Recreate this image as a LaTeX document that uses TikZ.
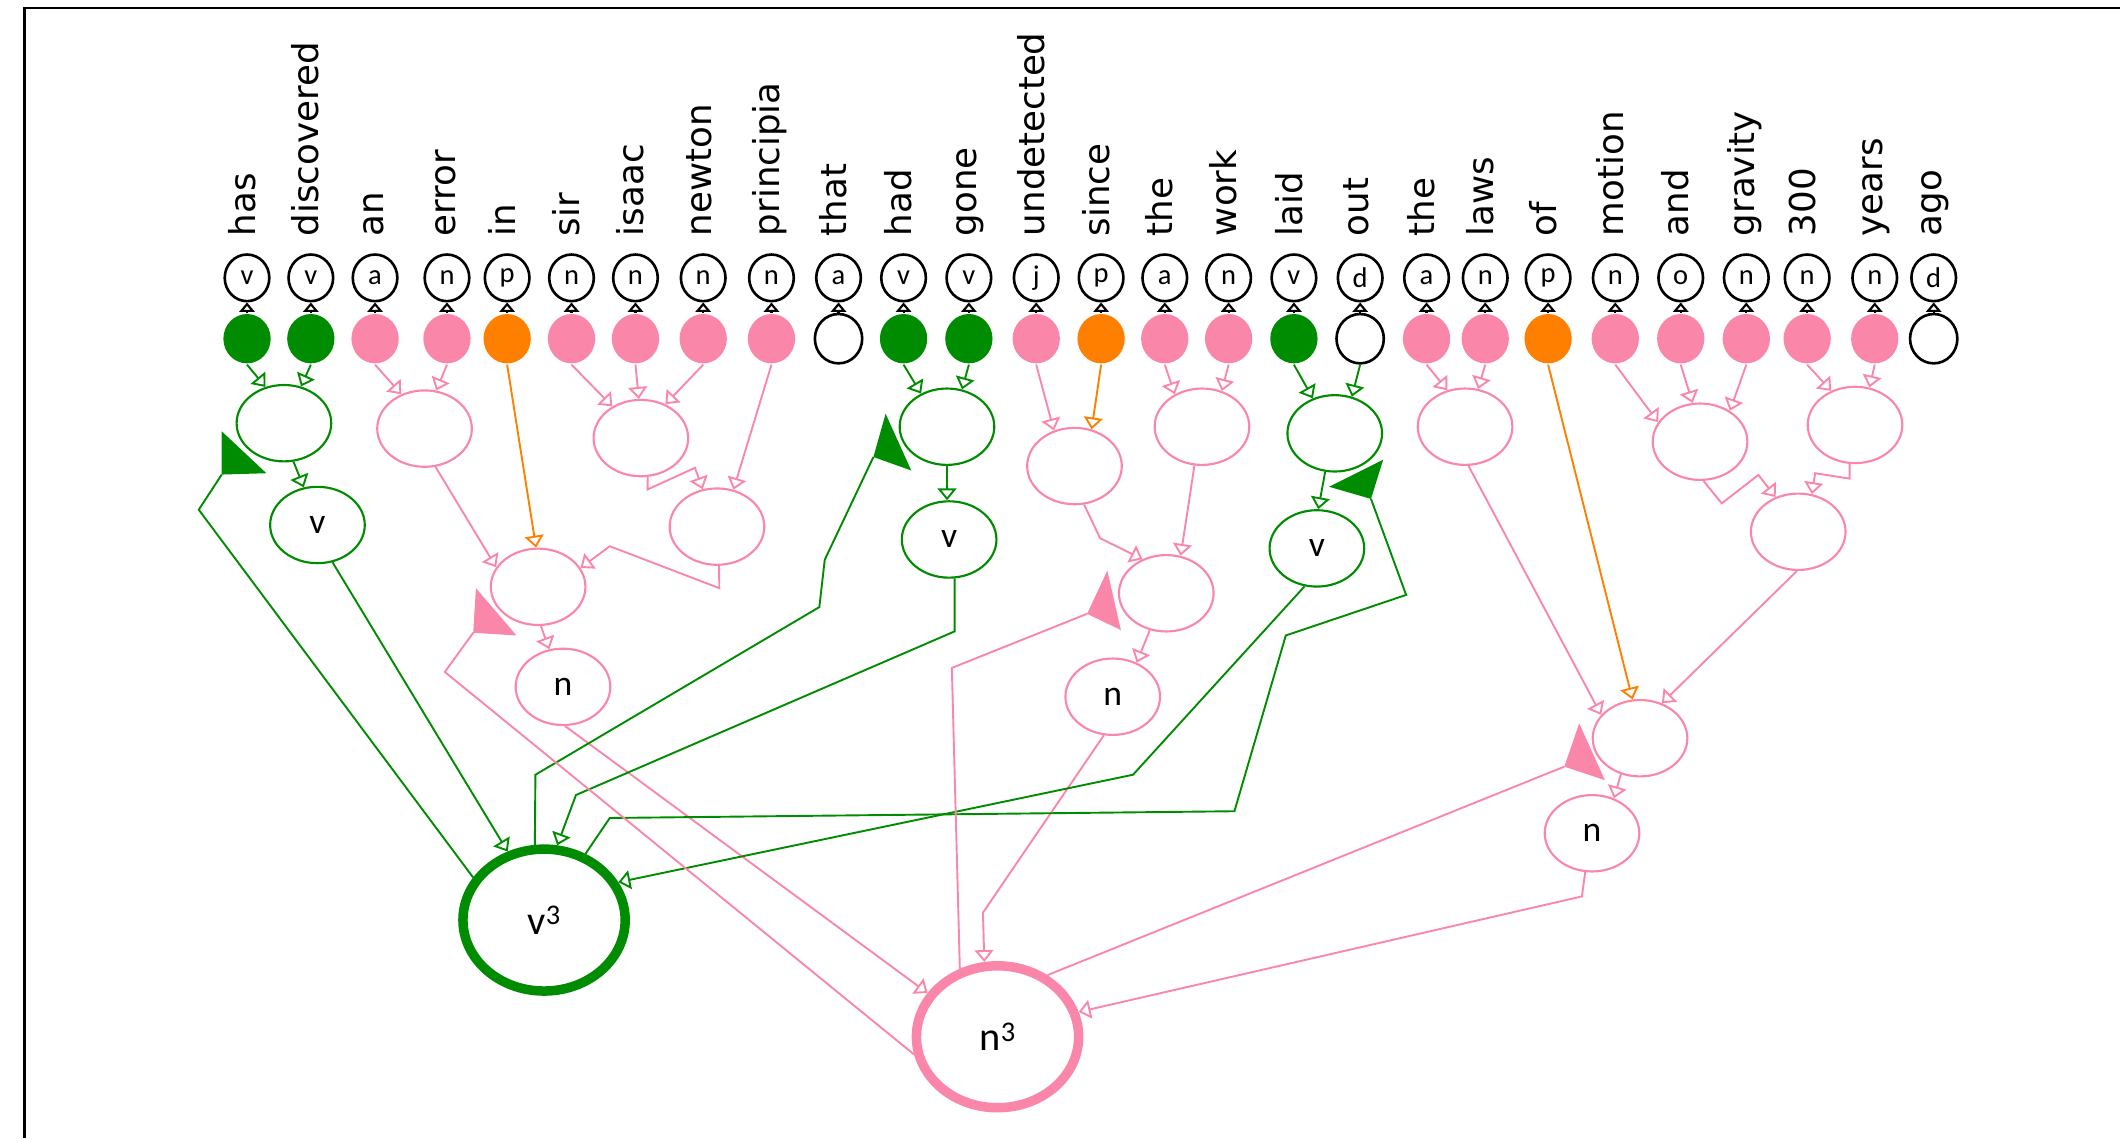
\documentclass[tikz,border=0pt]{standalone}
\usepackage{fontspec}
\setmainfont{DejaVu Sans}
\newfontfamily\carlito{Carlito}
\usetikzlibrary{shapes.geometric,arrows.meta}
\definecolor{tgreen}{RGB}{0,140,0}
\definecolor{tpink}{RGB}{250,135,170}
\definecolor{torange}{RGB}{255,128,0}
\newcommand{\wdfont}{\fontsize{15}{15}\selectfont}
\newcommand{\tgfont}{\carlito\fontsize{12}{12}\selectfont}
\newcommand{\ndfont}{\carlito\fontsize{15}{15}\selectfont}
\newcommand{\bgfont}{\carlito\fontsize{17}{17}\selectfont}
\newcommand{\cubed}{\raisebox{4.2pt}{\fontsize{12}{12}\selectfont 3}}
\begin{document}
\begin{tikzpicture}[x=0.02cm, y=-0.02cm,
    word/.style={rotate=90, anchor=base west, font=\wdfont, inner sep=0pt},
    tagnode/.style={ellipse, draw, line width=1.1pt, minimum width=0.66cm, minimum height=0.69cm, inner sep=0pt, font=\tgfont},
    tok/.style={ellipse, line width=1.1pt, minimum width=0.70cm, minimum height=0.73cm, inner sep=0pt},
    gnode/.style={ellipse, draw=tgreen, line width=0.9pt, minimum width=1.40cm, minimum height=1.13cm, inner sep=0pt, font=\ndfont},
    pnode/.style={ellipse, draw=tpink, line width=0.9pt, minimum width=1.40cm, minimum height=1.13cm, inner sep=0pt, font=\ndfont},
    gbig/.style={ellipse, draw=tgreen, line width=4pt, minimum width=2.40cm, minimum height=2.10cm, inner sep=0pt, font=\bgfont},
    pbig/.style={ellipse, draw=tpink, line width=4pt, minimum width=2.40cm, minimum height=2.10cm, inner sep=0pt, font=\bgfont},
    kline/.style={black, line width=0.9pt, -{Triangle[open, length=4pt, width=6.5pt]}},
    gline/.style={tgreen, line width=0.8pt, -{Triangle[open, length=5pt, width=8pt]}},
    pline/.style={tpink, line width=0.8pt, -{Triangle[open, length=5pt, width=8pt]}},
    oline/.style={torange, line width=0.8pt, -{Triangle[open, length=5pt, width=8pt]}},
    gbar/.style={tgreen, line width=0.8pt},
    pbar/.style={tpink, line width=0.8pt}]
    \useasboundingbox (0,0) rectangle (1568,842);
    \draw[black, line width=1pt] (1568,6) -- (18,6) -- (18,842);
    %
    \foreach \idx/\xx/\wtext/\ptag/\fcol/\lcol in {
        1/182.7/has/v/tgreen/none, 2/229.9/discovered/v/tgreen/none,
        3/277.4/an/a/tpink/none, 4/330.6/error/n/tpink/none,
        5/375.1/in/p/torange/none, 6/422.7/sir/n/tpink/none,
        7/470.0/isaac/n/tpink/none, 8/520.1/newton/n/tpink/none,
        9/570.6/principia/n/tpink/none, 10/620.2/that/a/white/black,
        11/668.3/had/v/tgreen/none, 12/716.6/gone/v/tgreen/none,
        13/766.4/undetected/j/tpink/none, 14/814.4/since/p/torange/none,
        15/861.5/the/a/tpink/none, 16/908.7/work/n/tpink/none,
        17/957.0/laid/v/tgreen/none, 18/1006.0/out/d/white/black,
        19/1055.1/the/a/tpink/none, 20/1098.5/laws/n/tpink/none,
        21/1145.0/of/p/torange/none, 22/1194.7/motion/n/tpink/none,
        23/1243.1/and/o/tpink/none, 24/1291.6/gravity/n/tpink/none,
        25/1336.6/300/n/tpink/none, 26/1386.6/years/n/tpink/none,
        27/1430.2/ago/d/white/black} {
        \node[word] (w\idx) at (\xx+6,175) {\wtext};
        \node[tagnode] (t\idx) at (\xx,205.5) {\ptag};
        \node[tok, fill=\fcol, draw=\lcol] (c\idx) at (\xx,250.5) {};
        \draw[kline] (c\idx) -- (t\idx);
    }
    %
    \node[gnode] (g1) at (210,313) {};
    \node[gnode] (v1) at (234.8,388.3) {v};
    \node[pnode] (p1) at (314,317) {};
    \node[pnode] (p2) at (474,324) {};
    \node[pnode] (p4) at (530.3,389.5) {};
    \node[pnode] (p3) at (398,434) {};
    \node[pnode] (n1) at (416.4,508) {n};
    \node[gnode] (g2) at (700.4,315.6) {};
    \node[gnode] (v2) at (702,399) {v};
    \node[pnode] (p5) at (794.7,344.7) {};
    \node[pnode] (p6) at (889,315.6) {};
    \node[pnode] (p7) at (862.6,438.8) {};
    \node[pnode] (n2) at (823,515.3) {n};
    \node[gnode] (g3) at (987.2,320.5) {};
    \node[gnode] (v3) at (974,405.6) {v};
    \node[pnode] (p8) at (1083.6,315.6) {};
    \node[pnode] (p9) at (1257.4,326.7) {};
    \node[pnode] (p10) at (1372,314.3) {};
    \node[pnode] (p12) at (1330,393.3) {};
    \node[pnode] (p11) at (1213,546) {};
    \node[pnode] (n3) at (1177.5,616.3) {n};
    \node[gbig] (vthree) at (402.4,680.5) {v\cubed};
    \node[pbig] (nthree) at (737.8,766.8) {n\cubed};
    %
    \draw[gline] (c1.south) -- (g1.117);
    \draw[gline] (c2.south) -- (g1.65);
    \draw[pline] (c3.south) -- (p1.124);
    \draw[pline] (c4.south) -- (p1.73);
    \draw[oline] (c5.south) -- (p3.93);
    \draw[pline] (c6.south) -- (p2.132);
    \draw[pline] (c7.south) -- (p2.93);
    \draw[pline] (c8.south) -- (p2.54);
    \draw[pline] (c9.south) -- (p4.66);
    \draw[gline] (c11.south) -- (g2.128);
    \draw[gline] (c12.south) -- (g2.68);
    \draw[pline] (c13.south) -- (p5.120);
    \draw[oline] (c14.south) -- (p5.65);
    \draw[pline] (c15.south) -- (p6.130);
    \draw[pline] (c16.south) -- (p6.61);
    \draw[gline] (c17.south) -- (g3.122);
    \draw[gline] (c18.south) -- (g3.65);
    \draw[pline] (c19.south) -- (p8.116);
    \draw[pline] (c20.south) -- (p8.71);
    \draw[oline] (c21.south) -- (p11.101);
    \draw[pline] (c22.south) -- (p9.155);
    \draw[pline] (c23.south) -- (p9.101);
    \draw[pline] (c24.south) -- (p9.46);
    \draw[pline] (c25.south) -- (p10.125);
    \draw[pline] (c26.south) -- (p10.69);
    %
    \draw[gline] (g1.-76) -- (v1.110);
    \draw[gline] (v1.-68) -- (vthree.118);
    \draw[pline] (p1.-74) -- (p3.155);
    \draw[pline] (p2.-80) -- (479,362) -- (514,346) -- (p4.111);
    \draw[pline] (p4.-87) -- (532,435) -- (451,404) -- (p3.24);
    \draw[pline] (p3.-86) -- (n1.110);
    \draw[pline] (n1.-87) -- (nthree.148);
    \draw[gline] (g2.-90) -- (v2.93);
    \draw[gline] (v2.-82) -- (706,467) -- (426,588) -- (vthree.80);
    \draw[pline] (p5.-76) -- (813.6,398) -- (p7.125);
    \draw[pline] (p6.259) -- (p7.69);
    \draw[pline] (p7.246) -- (n2.55);
    \draw[pline] (n2.257) -- (727,675) -- (nthree.100);
    \draw[gline] (g3.256) -- (v3.88);
    \draw[gline] (v3.252) -- (838,573) -- (vthree.27);
    \draw[pline] (p8.275) -- (p11.149);
    \draw[pline] (p9.275) -- (1273.4,372.3) -- (1300.5,351.3) -- (p12.123);
    \draw[pline] (p10.262) -- (1368,354) -- (1342.5,350) -- (p12.70);
    \draw[pline] (p12.268) -- (p11.58);
    \draw[pline] (p11.242) -- (n3.58);
    \draw[pline] (n3.260) -- (1170,663) -- (nthree.17);
    %
    \coordinate (g1tip) at (164,351);
    \coordinate (g2tip) at (646,338);
    \coordinate (g3tip) at (1014,369);
    \coordinate (p3tip) at (350,468);
    \coordinate (p7tip) at (804,454);
    \coordinate (p11tip) at (1157,567);
    \draw[gbar] (vthree.149) -- (147,377) -- (g1tip);
    \fill[tgreen] (g1tip) -- ++(0,-32) -- ++(33,31) -- cycle;
    \draw[gbar] (vthree.97) -- (396,573) -- (606,449) -- (610,414) -- (g2tip);
    \fill[tgreen] (g2tip) -- ++(9,-32) -- ++(19,42) -- cycle;
    \draw[gbar] (vthree.58) -- (451,605) -- (913,600) -- (951,470) -- (1040,440) -- (g3tip);
    \fill[tgreen] (g3tip) -- ++(9,-29) -- ++(-40,20) -- cycle;
    \draw[pbar] (nthree.192) -- (329,497) -- (p3tip);
    \fill[tpink] (p3tip) -- ++(2,-33) -- ++(30,35) -- cycle;
    \draw[pbar] (nthree.119) -- (704,494) -- (p7tip);
    \fill[tpink] (p7tip) -- ++(15,-32) -- ++(10,44) -- cycle;
    \draw[pbar] (nthree.51) -- (p11tip);
    \fill[tpink] (p11tip) -- ++(11,-32) -- ++(19,42) -- cycle;
\end{tikzpicture}
\end{document}
